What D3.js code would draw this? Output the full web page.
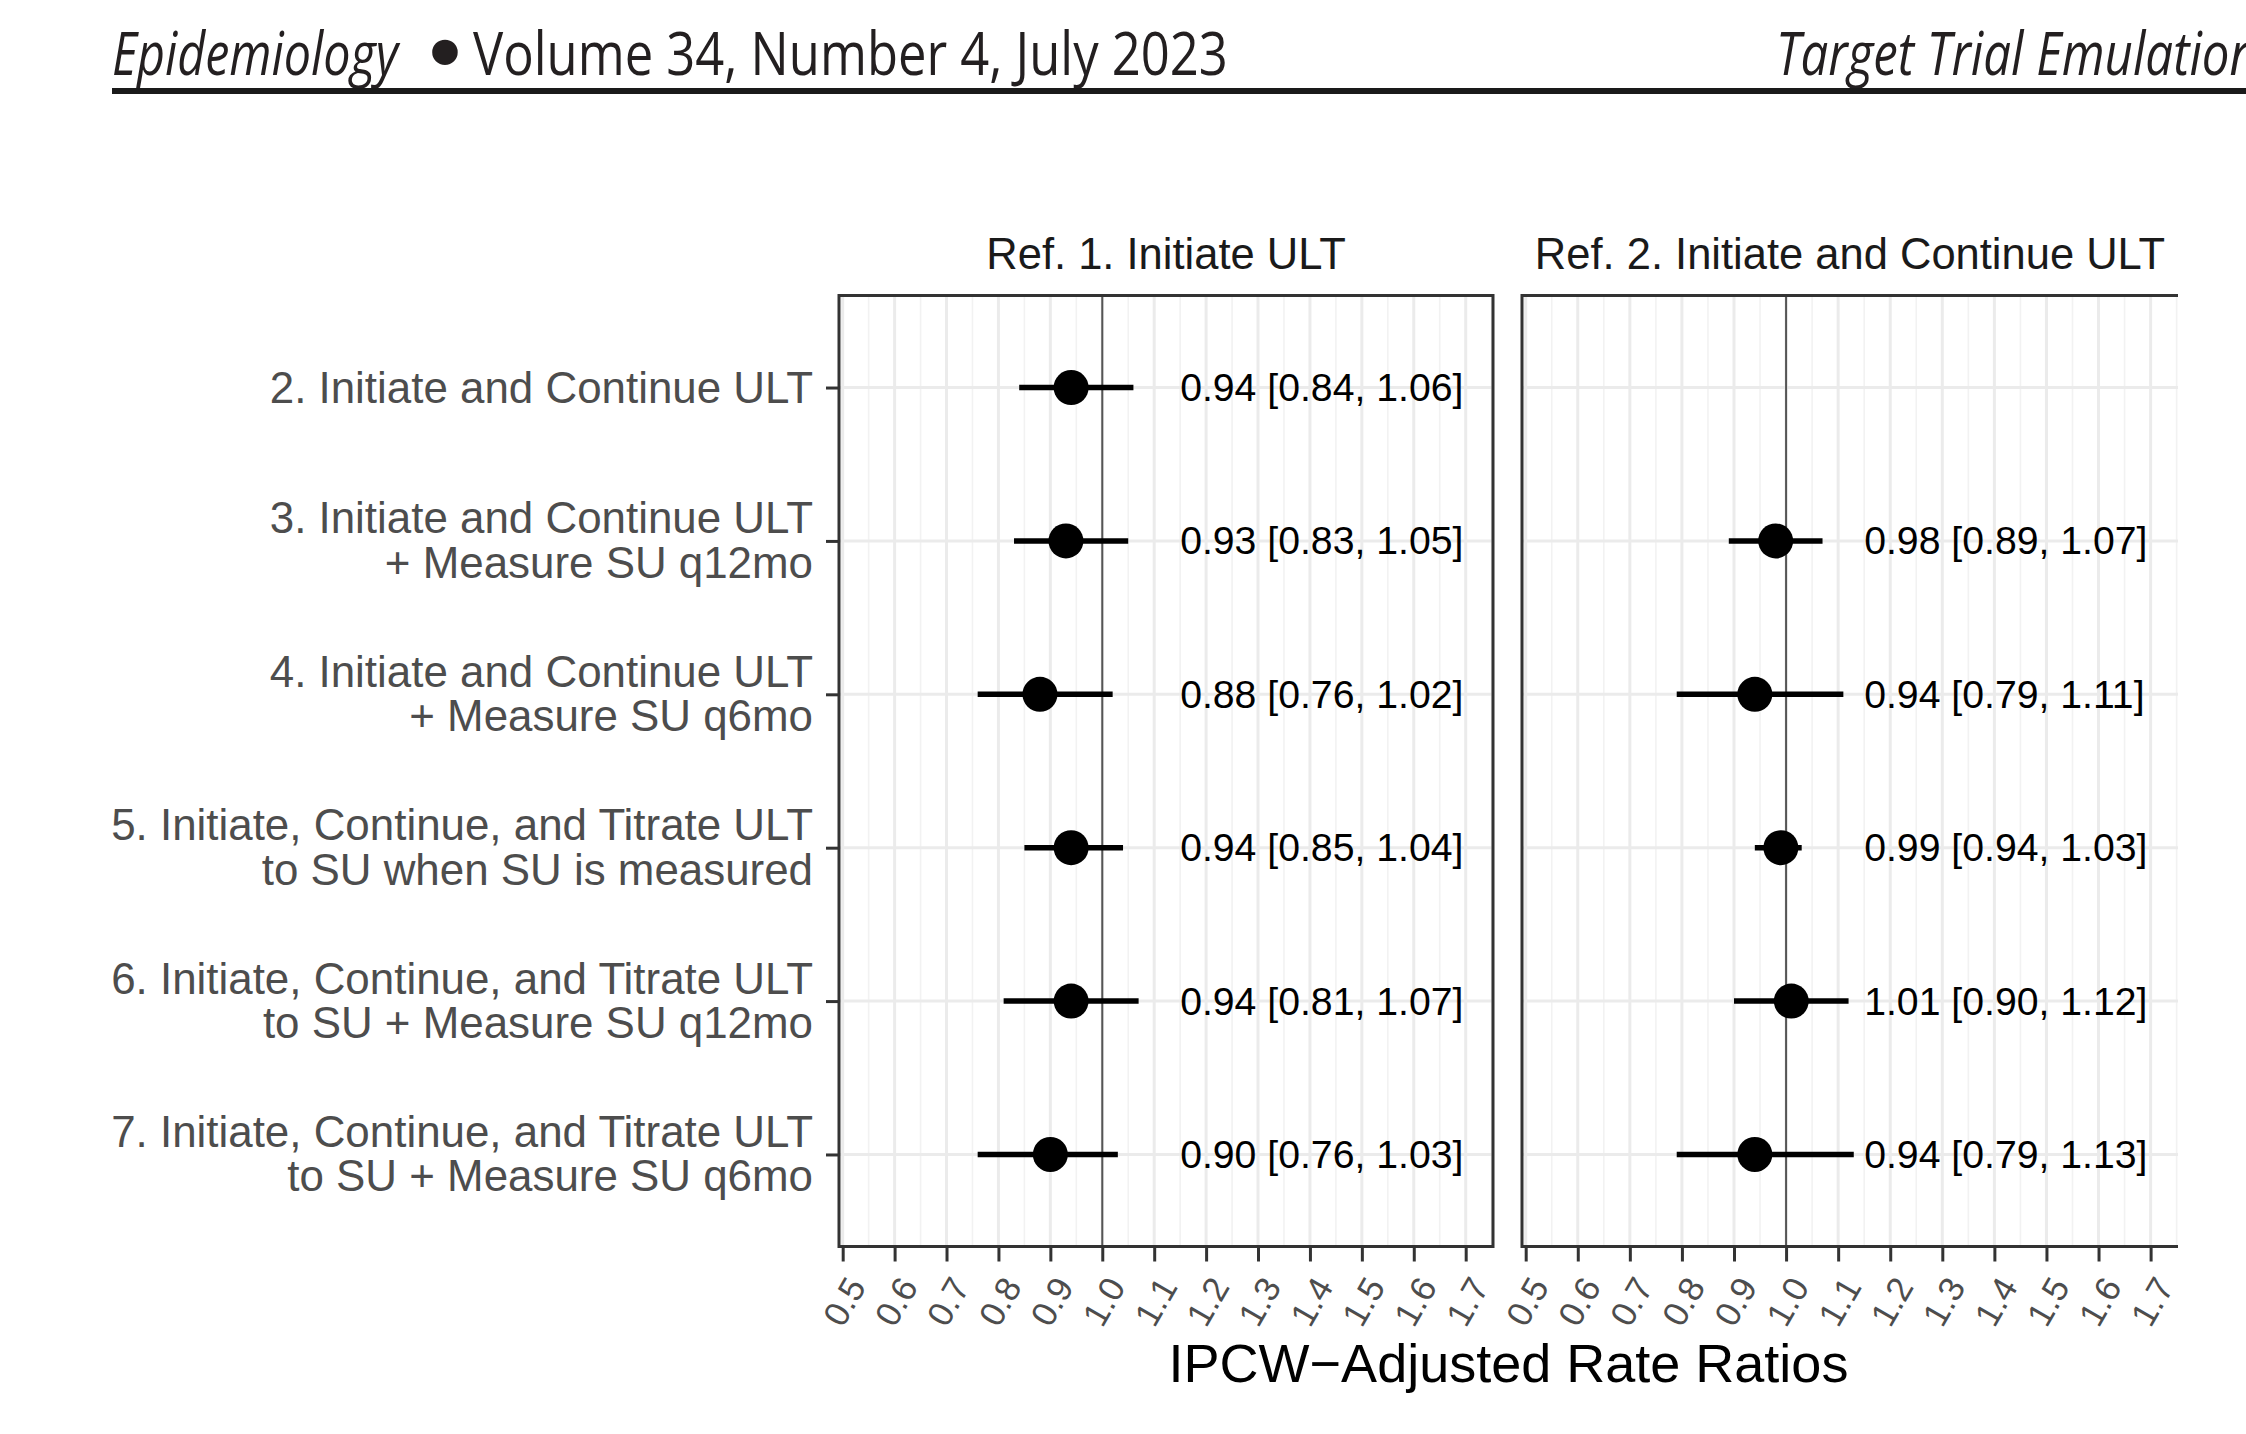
<!DOCTYPE html>
<html>
<head>
<meta charset="utf-8">
<script src="https://cdn.jsdelivr.net/npm/d3@7"></script>
<style>
  body { margin: 0; background: #fff; }
  svg { display: block; }
</style>
</head>
<body>
<div id="chart"></div>
<script>
// Dados
const rowIds = ["r2", "r3", "r4", "r5", "r6", "r7"];
const rowLabels = [
    ["2. Initiate and Continue ULT"],
    ["3. Initiate and Continue ULT", "+ Measure SU q12mo"],
    ["4. Initiate and Continue ULT", "+ Measure SU q6mo"],
    ["5. Initiate, Continue, and Titrate ULT", "to SU when SU is measured"],
    ["6. Initiate, Continue, and Titrate ULT", "to SU + Measure SU q12mo"],
    ["7. Initiate, Continue, and Titrate ULT", "to SU + Measure SU q6mo"]
];
const panelTitles = ["Ref. 1. Initiate ULT", "Ref. 2. Initiate and Continue ULT"];

const ref1Est = [0.94, 0.93, 0.88, 0.94, 0.94, 0.90];
const ref1Lo  = [0.84, 0.83, 0.76, 0.85, 0.81, 0.76];
const ref1Hi  = [1.06, 1.05, 1.02, 1.04, 1.07, 1.03];

const ref2Est = [null, 0.98, 0.94, 0.99, 1.01, 0.94];
const ref2Lo  = [null, 0.89, 0.79, 0.94, 0.90, 0.79];
const ref2Hi  = [null, 1.07, 1.11, 1.03, 1.12, 1.13];

const xTicks = [0.5, 0.6, 0.7, 0.8, 0.9, 1.0, 1.1, 1.2, 1.3, 1.4, 1.5, 1.6, 1.7];
const xMinor = [0.55, 0.65, 0.75, 0.85, 0.95, 1.05, 1.15, 1.25, 1.35, 1.45, 1.55, 1.65, 1.75];
const labelPos = 1.15;
const xTitle = "IPCW\u2212Adjusted Rate Ratios";

// Configurações
const width = 2246, height = 1434;
const panelTop = 295.5, panelBottom = 1246.5;
const panels = [
    { title: panelTitles[0], x0: 839, x1: 1493, est: ref1Est, lo: ref1Lo, hi: ref1Hi, rightBorder: true },
    { title: panelTitles[1], x0: 1522, x1: 2178, est: ref2Est, lo: ref2Lo, hi: ref2Hi, rightBorder: false }
];
const font = "'Liberation Sans', Arial, Helvetica, sans-serif";

const svg = d3.select('#chart')
    .append('svg')
    .attr('width', width)
    .attr('height', height)
    .attr('viewBox', [0, 0, width, height]);

// Cabeçalho da revista (fonte estreitada com scale horizontal)
const head = svg.append('g')
    .attr('font-family', "'Open Sans', 'Noto Sans', sans-serif")
    .attr('fill', '#231f20')
    .attr('font-size', 60);

function headText(txt, x, w, italic) {
    const t = head.append('text')
        .attr('font-style', italic ? 'italic' : 'normal')
        .text(txt);
    const natural = t.node().getComputedTextLength();
    t.attr('transform', `translate(${x},75) scale(${w / natural},1)`);
    return t;
}
headText('Epidemiology', 112, 286, true);
head.append('text')
    .attr('x', 445).attr('y', 85)
    .attr('text-anchor', 'middle')
    .attr('font-family', "'DejaVu Sans', sans-serif")
    .attr('font-size', 88)
    .text('\u2022');
headText('Volume 34, Number 4, July 2023', 473, 755, false);
headText('Target Trial Emulation', 1776, 482, true);
head.append('rect')
    .attr('x', 112).attr('y', 88)
    .attr('width', width - 112).attr('height', 6)
    .attr('fill', '#1a1a1a');

// Escala vertical (categorias)
const y = d3.scalePoint()
    .domain(rowIds)
    .range([panelTop, panelBottom])
    .padding(0.6);

// Eixo y (somente no painel da esquerda)
const yAxis = svg.append('g')
    .attr('transform', `translate(${panels[0].x0},0)`)
    .call(d3.axisLeft(y).tickSize(13).tickFormat(''));
yAxis.select('.domain').remove();
yAxis.selectAll('.tick line').attr('stroke', '#333').attr('stroke-width', 3);

const yLab = svg.append('g')
    .attr('font-family', font)
    .attr('font-size', 43.9)
    .attr('fill', '#4d4d4d')
    .attr('text-anchor', 'end');

rowIds.forEach((id, i) => {
    const lines = rowLabels[i];
    const t = yLab.append('text').attr('x', 813);
    if (lines.length === 1) {
        t.append('tspan').attr('x', 813).attr('y', y(id) + 15.5).text(lines[0]);
    } else {
        t.append('tspan').attr('x', 813).attr('y', y(id) - 7.5).text(lines[0]);
        t.append('tspan').attr('x', 813).attr('y', y(id) + 37).text(lines[1]);
    }
});

// Desenhar cada painel
panels.forEach(p => {
    const x = d3.scaleLinear()
        .domain([0.4929, 1.7526])
        .range([p.x0, p.x1]);

    const g = svg.append('g');

    // Grade menor
    g.append('g')
        .selectAll('line')
        .data(xMinor.filter(v => x(v) <= p.x1))
        .enter()
        .append('line')
        .attr('x1', d => x(d)).attr('x2', d => x(d))
        .attr('y1', panelTop).attr('y2', panelBottom)
        .attr('stroke', '#f2f2f2')
        .attr('stroke-width', 1.6);

    // Grade maior
    g.append('g')
        .selectAll('line')
        .data(xTicks)
        .enter()
        .append('line')
        .attr('x1', d => x(d)).attr('x2', d => x(d))
        .attr('y1', panelTop).attr('y2', panelBottom)
        .attr('stroke', '#ebebeb')
        .attr('stroke-width', 3);

    g.append('g')
        .selectAll('line')
        .data(rowIds)
        .enter()
        .append('line')
        .attr('x1', p.x0).attr('x2', p.x1)
        .attr('y1', d => y(d)).attr('y2', d => y(d))
        .attr('stroke', '#ebebeb')
        .attr('stroke-width', 3);

    // Linha de referência em 1.0
    g.append('line')
        .attr('x1', x(1)).attr('x2', x(1))
        .attr('y1', panelTop).attr('y2', panelBottom)
        .attr('stroke', '#555')
        .attr('stroke-width', 2);

    const rows = rowIds.map((id, i) => ({ id, est: p.est[i], lo: p.lo[i], hi: p.hi[i] }))
        .filter(d => d.est !== null);

    // Intervalos de confiança
    g.append('g')
        .selectAll('line')
        .data(rows)
        .enter()
        .append('line')
        .attr('x1', d => x(d.lo)).attr('x2', d => x(d.hi))
        .attr('y1', d => y(d.id)).attr('y2', d => y(d.id))
        .attr('stroke', '#000')
        .attr('stroke-width', 5.5);

    // Estimativas pontuais
    g.append('g')
        .selectAll('circle')
        .data(rows)
        .enter()
        .append('circle')
        .attr('cx', d => x(d.est))
        .attr('cy', d => y(d.id))
        .attr('r', 17.5)
        .attr('fill', '#000');

    // Rótulos com valores
    g.append('g')
        .selectAll('text')
        .data(rows)
        .enter()
        .append('text')
        .attr('x', x(labelPos))
        .attr('y', d => y(d.id) + 13.5)
        .attr('font-family', font)
        .attr('font-size', 39.2)
        .attr('fill', '#000')
        .text(d => `${d.est.toFixed(2)} [${d.lo.toFixed(2)}, ${d.hi.toFixed(2)}]`);

    // Borda do painel
    const border = d3.path();
    border.moveTo(p.x1, panelTop);
    border.lineTo(p.x0, panelTop);
    border.lineTo(p.x0, panelBottom);
    border.lineTo(p.x1, panelBottom);
    if (p.rightBorder) border.closePath();
    g.append('path')
        .attr('d', border.toString())
        .attr('fill', 'none')
        .attr('stroke', '#333')
        .attr('stroke-width', 3);

    // Título do painel
    svg.append('text')
        .attr('x', (p.x0 + p.x1) / 2)
        .attr('y', 269)
        .attr('text-anchor', 'middle')
        .attr('font-family', font)
        .attr('font-size', 43.5)
        .attr('fill', '#1a1a1a')
        .text(p.title);

    // Eixo x
    const xAxis = svg.append('g')
        .attr('transform', `translate(0,${panelBottom})`)
        .call(d3.axisBottom(x).tickValues(xTicks).tickSize(15).tickFormat(d3.format('.1f')));
    xAxis.select('.domain').remove();
    xAxis.selectAll('.tick line').attr('stroke', '#333').attr('stroke-width', 3);
    xAxis.selectAll('.tick text')
        .attr('x', null).attr('y', null).attr('dy', '0.35em')
        .attr('transform', 'translate(1,55) rotate(-60)')
        .attr('text-anchor', 'middle')
        .attr('font-family', font)
        .attr('font-size', 35)
        .attr('fill', '#4d4d4d');
});

// Título do eixo x
svg.append('text')
    .attr('x', (panels[0].x0 + panels[1].x1) / 2)
    .attr('y', 1381.5)
    .attr('text-anchor', 'middle')
    .attr('font-family', font)
    .attr('font-size', 54)
    .attr('fill', '#000')
    .text(xTitle);
</script>
</body>
</html>
